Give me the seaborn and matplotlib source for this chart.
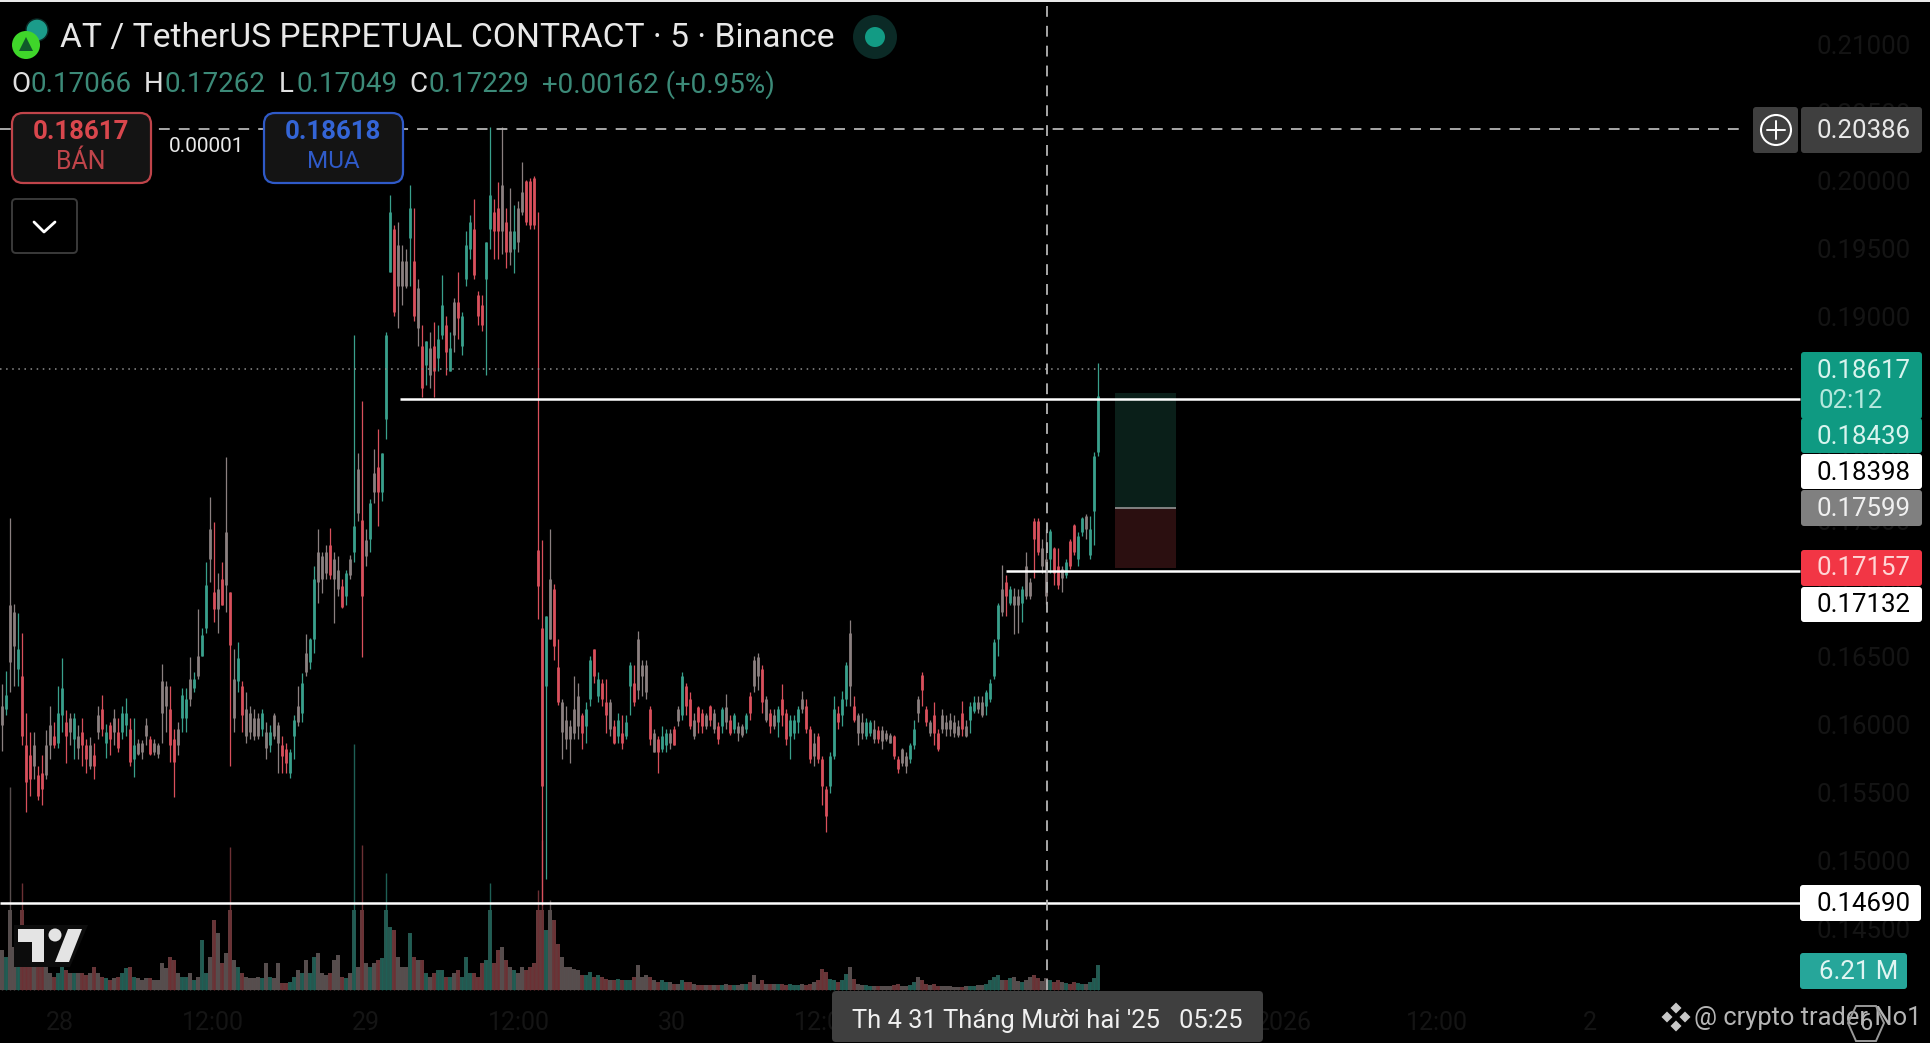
import numpy as np
import pandas as pd
import matplotlib
matplotlib.use("Agg")
import matplotlib.pyplot as plt
import seaborn as sns
from matplotlib.patches import Circle, FancyBboxPatch, Polygon, Rectangle
from matplotlib.transforms import Affine2D

# candles, prices in 1/10000 USDT, one candle = 4 px wide
highs = [
    1630,1640,1752,1689,1682,1668,1609,1595,1595,1570, 1578,1596,1614,1602,1629,1649,1611,1609,1609,1600,
    1605,1590,1591,1587,1614,1622,1601,1602,1612,1605, 1614,1620,1605,1605,1590,1589,1605,1592,1590,1587,
    1645,1632,1629,1597,1602,1627,1627,1650,1639,1685, 1671,1720,1768,1749,1712,1720,1797,1698,1656,1661,
    1632,1624,1614,1612,1609,1612,1602,1600,1609,1602, 1592,1587,1582,1607,1629,1638,1667,1664,1717,1744,
    1727,1732,1745,1727,1724,1707,1714,1725,1887,1800, 1838,1744,1766,1803,1818,1800,1889,1990,1968,1970,
    1953,1950,1997,1980,1928,1894,1882,1889,1896,1894, 1931,1901,1889,1914,1933,1904,1963,1975,1987,1919,
    1916,1955,2040,1987,1999,2040,1980,1995,1982,1985, 2014,2001,2002,2004,1977,1736,1680,1744,1704,1663,
    1619,1614,1604,1636,1631,1609,1617,1651,1656,1639, 1634,1634,1619,1604,1609,1607,1607,1646,1644,1669,
    1648,1648,1614,1597,1592,1599,1597,1597,1599,1614, 1639,1631,1624,1609,1614,1612,1609,1615,1612,1602,
    1613,1623,1607,1609,1602,1601,1609,1624,1651,1653, 1644,1621,1612,1612,1614,1630,1612,1607,1607,1614,
    1625,1619,1599,1594,1594,1577,1555,1580,1621,1614, 1625,1646,1677,1621,1609,1609,1605,1604,1604,1599,
    1599,1596,1594,1593,1577,1583,1580,1587,1604,1621, 1639,1614,1604,1617,1597,1612,1607,1609,1607,1604,
    1618,1604,1617,1621,1621,1621,1626,1634,1663,1690, 1718,1710,1702,1701,1700,1702,1727,1708,1752,1752,
    1737,1744,1744,1731,1730,1717,1722,1737,1748,1742, 1753,1755,1754,1801,1866,
]
body_tops = [
    1614,1622,1688,1683,1656,1636,1585,1578,1585,1563, 1565,1585,1600,1592,1609,1627,1602,1605,1605,1592,
    1595,1585,1585,1578,1607,1612,1595,1600,1605,1595, 1609,1609,1597,1585,1587,1587,1600,1590,1587,1585,
    1632,1629,1612,1590,1597,1622,1619,1634,1634,1651, 1666,1703,1744,1698,1700,1707,1742,1698,1634,1649,
    1629,1612,1609,1605,1605,1609,1595,1595,1607,1600, 1585,1582,1580,1604,1614,1631,1653,1663,1707,1727,
    1724,1727,1732,1722,1714,1702,1712,1722,1746,1788, 1751,1736,1763,1785,1790,1800,1887,1977,1965,1953,
    1941,1941,1980,1941,1921,1879,1882,1877,1879,1884, 1909,1894,1877,1911,1911,1901,1953,1970,1965,1916,
    1909,1955,1990,1977,1980,1997,1970,1963,1963,1980, 1992,2000,2000,2002,1729,1671,1680,1707,1700,1643,
    1617,1604,1599,1612,1621,1607,1612,1648,1656,1634, 1631,1617,1617,1599,1604,1594,1602,1644,1631,1663,
    1644,1644,1612,1594,1590,1592,1594,1594,1597,1612, 1636,1629,1619,1604,1613,1609,1607,1614,1609,1599,
    1612,1613,1604,1607,1599,1599,1607,1621,1648,1650, 1641,1619,1609,1607,1612,1619,1609,1604,1604,1612,
    1619,1614,1597,1587,1592,1575,1553,1577,1612,1609, 1619,1644,1668,1614,1607,1602,1602,1602,1597,1596,
    1596,1594,1593,1592,1575,1582,1577,1585,1597,1619, 1637,1612,1602,1607,1594,1607,1602,1604,1602,1599,
    1609,1599,1614,1617,1617,1617,1624,1631,1661,1688, 1700,1705,1700,1695,1695,1700,1717,1705,1750,1750,
    1730,1722,1743,1730,1717,1715,1720,1735,1747,1739, 1752,1754,1744,1798,1842,
]
body_bottoms = [
    1600,1612,1646,1658,1641,1592,1558,1560,1570,1548, 1553,1563,1585,1585,1587,1607,1592,1595,1590,1583,
    1585,1575,1570,1570,1595,1597,1587,1590,1595,1583, 1595,1600,1573,1575,1579,1580,1592,1579,1580,1579,
    1609,1614,1585,1573,1585,1605,1605,1619,1627,1636, 1651,1671,1722,1685,1685,1688,1703,1659,1605,1632,
    1607,1592,1595,1592,1592,1597,1583,1585,1592,1587, 1577,1572,1565,1592,1602,1609,1639,1646,1663,1705,
    1707,1712,1710,1707,1700,1687,1695,1710,1727,1756, 1695,1724,1737,1771,1771,1771,1825,1933,1904,1923,
    1923,1923,1958,1901,1892,1848,1865,1857,1860,1870, 1887,1874,1860,1887,1899,1879,1928,1950,1931,1901,
    1894,1928,1965,1963,1963,1963,1948,1948,1950,1955, 1977,1970,1968,1968,1702,1555,1629,1663,1658,1617,
    1595,1590,1590,1594,1599,1594,1599,1619,1636,1621, 1619,1607,1597,1587,1592,1587,1592,1629,1617,1626,
    1636,1624,1590,1580,1580,1582,1585,1587,1585,1603, 1607,1614,1599,1592,1602,1599,1599,1604,1597,1590,
    1599,1602,1594,1597,1594,1593,1597,1609,1629,1636, 1617,1604,1599,1599,1602,1607,1590,1592,1594,1602,
    1612,1597,1575,1577,1575,1555,1533,1555,1577,1602, 1607,1619,1629,1604,1594,1594,1592,1594,1590,1590,
    1588,1590,1587,1577,1568,1572,1570,1575,1585,1609, 1626,1602,1594,1594,1582,1597,1597,1597,1594,1593,
    1597,1592,1604,1610,1612,1607,1614,1619,1636,1663, 1683,1695,1690,1688,1688,1690,1695,1695,1737,1727,
    1717,1695,1722,1712,1703,1708,1710,1717,1727,1722, 1742,1744,1725,1757,1801,
]
lows = [
    1581,1607,1624,1629,1629,1585,1536,1548,1560,1545, 1541,1560,1575,1583,1583,1595,1572,1585,1575,1575,
    1570,1565,1568,1560,1590,1592,1576,1578,1585,1580, 1590,1592,1570,1562,1578,1575,1585,1578,1578,1576,
    1587,1595,1573,1547,1578,1595,1595,1614,1624,1634, 1651,1668,1705,1676,1668,1688,1683,1570,1595,1624,
    1595,1587,1590,1589,1590,1592,1575,1580,1590,1565, 1565,1565,1561,1575,1599,1602,1636,1641,1653,1690,
    1697,1707,1707,1675,1695,1686,1688,1707,1720,1750, 1650,1717,1727,1763,1746,1765,1810,1933,1901,1892,
    1909,1921,1923,1897,1879,1841,1850,1848,1841,1860, 1884,1857,1860,1874,1884,1872,1923,1943,1928,1894,
    1890,1857,1950,1943,1943,1946,1936,1938,1932,1948, 1975,1968,1965,1965,1678,1468,1487,1663,1648,1615,
    1575,1582,1572,1590,1590,1582,1587,1614,1631,1617, 1614,1594,1592,1586,1587,1582,1590,1607,1614,1619,
    1621,1619,1585,1580,1565,1580,1580,1582,1585,1599, 1604,1607,1597,1590,1594,1594,1597,1599,1594,1586,
    1594,1597,1593,1594,1588,1591,1594,1604,1624,1626, 1609,1602,1594,1597,1591,1599,1585,1575,1590,1594,
    1609,1594,1572,1570,1572,1541,1521,1550,1575,1597, 1599,1614,1614,1602,1585,1590,1590,1592,1587,1587,
    1582,1588,1587,1575,1565,1570,1565,1572,1582,1602, 1614,1599,1592,1585,1581,1594,1592,1592,1591,1591,
    1592,1591,1594,1609,1609,1606,1607,1617,1634,1651, 1680,1680,1688,1667,1668,1676,1693,1693,1708,1725,
    1712,1689,1712,1703,1700,1698,1708,1715,1725,1717, 1739,1737,1722,1732,1798,
]
# g = up, r = down, n = looks grey in the screenshot
sides = list(
    "ngnngrrrnr" "rnnrggrngn" "rrnrnrgrnr" "ggrgnnnrnn" "nnrrnggngn" "ggnrnrnrng" "rnnnngngnn"
    "rrggngnggn" "nnrnnrgngn" "rngnrgggrn" "nngrnrgnrg" "grgnrgggrr" "rggrrnrngn" "nrrrrrgnrr"
    "nnnnnrggrg" "rrnrgrggrn" "nnrnrggnrn" "grrnrrnrnr" "gnrgnngrnn" "rnrngrrggg" "nrrnrrrggr"
    "ggnrnnggnr" "nnnrrnnggn" "rrnrrnnnnn" "rnggnngggg" "nrgnngnnrr" "nngrrngrrg" "gnggg"
)
# volume in millions
volumes = [
    10,8.2,50.8,10.8,12.5,26.8,15.8,10.8,6.8,5.8, 5.8,5.8,4.2,3.2,4.2,5.8,5,4.2,4.2,4.2,
    4.2,3.8,4.2,5.8,4.2,3.2,3,2.5,3,3.2, 4.2,5.5,5.8,3.2,3,2.5,3,3,2.5,2.5,
    6.8,5.5,8.2,7.5,4.2,3.2,3.2,4.2,2.5,3.2, 12.5,4.2,8.2,17.5,14.2,6.8,9.2,35.8,7.5,5.8,
    4.2,3.2,3,3,3.2,3,6.8,3.2,3,6.8, 1.8,1.8,2,3.2,5,4.2,7.5,4.2,8.2,9.2,
    4.2,3.8,4.2,7.5,8.8,3.2,3,4.2,61.5,5.8, 36.2,6.8,5.8,6.8,7.5,8,29.2,15.8,15,8.2,
    5.8,5.8,14.2,8.2,7.5,7.5,4.2,3.2,4.2,5, 5,3.2,3.2,4.2,5,3.2,8.2,4.2,4.2,3.2,
    6.8,7.5,26.8,6.8,10,10.8,7.5,5.8,5,4.2, 5.8,5,5.8,6.8,25,37.5,15,22.5,17.5,11.5,
    8.2,5.8,5.8,5.2,5,3.8,3.8,4.5,3.2,3.8, 3.2,2.8,2.5,2.5,2.8,2.5,2.5,2.5,3.2,6.2,
    3.2,3.8,3.2,2.5,2,2.5,2,2,1.5,1.5, 2.5,2,2,1.5,1.2,1.2,1.2,1.2,1.2,1.2,
    1.2,1.5,1.2,1.2,1.2,1.5,1.5,2,3.8,1.5, 2.5,1.5,1.5,1.5,1.5,1.5,1.2,1.5,1.2,1.2,
    1.5,1.2,1.5,2,2.5,5.2,4.5,2.8,2.5,2, 2.5,4,5.8,2.8,1.5,1.2,1.2,1,1,1,
    1,1,1,1.2,1.5,1,1,1.2,2,3.2, 2.5,1.5,1.2,1.5,1,1,1,1,.8,.8,
    .8,1,1,1,1.2,1.2,1.5,2.5,3.2,3.8, 2.5,2.5,3,3.2,2.2,2,2.5,3.2,3.8,3,
    2.2,3,2.5,2,2.5,2,1.8,1.5,2,1.8, 1.5,1.5,2,3,6.21,
]

price_ticks = [0.145, 0.150, 0.155, 0.160, 0.165, 0.170, 0.175, 0.180, 0.185, 0.190, 0.195, 0.200, 0.205, 0.210]
# labels hidden by the date flag and the watermark are left out
time_ticks = [15.0, 53.25, 91.5, 129.75, 168.0, 206.25, 321.0, 359.25, 397.5]
time_labels = ["28", "12:00", "29", "12:00", "30", "12:00", "2026", "12:00", "2"]

cursor_price = 0.20386
last_price = 0.18617
level_prices = [0.18398, 0.17132, 0.14690]
level_starts = [100.0, 251.5, 0.0]
cursor_bar = 261.7
# long position tool
pos_left, pos_right = 278.75, 294.0
pos_target, pos_entry, pos_stop = 0.18439, 0.17599, 0.17157

sns.set_theme(style="dark", rc={"axes.facecolor": "black", "figure.facecolor": "black"})
plt.rcParams["font.family"] = ["Roboto", "DejaVu Sans"]

fig = plt.figure(figsize=(19.31, 10.43), dpi=100)
ax = fig.add_axes([0, 0, 1, 1])
vol_ax = ax.twinx()
ax.set_zorder(2)
vol_ax.set_zorder(1)
ax.patch.set_visible(False)

# volume pane, spikes above the cap are only thin lines like in the screenshot
vol_palette = {"g": "#1e5f55", "r": "#6c3034", "n": "#574d4d"}
bars = np.arange(len(volumes)) + 0.5
df = pd.DataFrame({"bar": bars, "volume": np.minimum(volumes, 20), "side": sides})
sns.barplot(data=df, x="bar", y="volume", hue="side", native_scale=True, dodge=False,
            palette=vol_palette, errorbar=None, width=0.9, legend=False, ax=vol_ax, linewidth=0)
vol_ax.vlines(bars, 0, volumes, colors=[vol_palette[s] for s in sides], linewidth=1.0, capstyle="butt")

# candles
candle_colors = {"g": "#39a08c", "r": "#d9505c", "n": "#8b8080"}
seg_colors = [candle_colors[s] for s in sides]
hi = np.array(highs) / 10000
lo = np.array(lows) / 10000
top = np.array(body_tops) / 10000
bot = np.array(body_bottoms) / 10000
ax.vlines(bars, lo, hi, colors=seg_colors, linewidth=0.9, capstyle="butt", zorder=3)
ax.vlines(bars, bot, top, colors=seg_colors, linewidth=2.0, capstyle="butt", zorder=3)

# position tool
ax.add_patch(Rectangle((pos_left, pos_entry), pos_right - pos_left, pos_target - pos_entry,
                       facecolor="#0a1f19", edgecolor="none", zorder=2))
ax.add_patch(Rectangle((pos_left, pos_stop), pos_right - pos_left, pos_entry - pos_stop,
                       facecolor="#2b0f10", edgecolor="none", zorder=2))
ax.hlines(pos_entry, pos_left, pos_right, colors="#8a8a8a", linewidth=1.3, zorder=3)

# levels and crosshair
ax.hlines(level_prices, level_starts, 450.0, colors="white", linewidth=1.8, zorder=4)
ax.hlines(last_price, 0, 449, colors="#8f8f8f", linewidth=1.1, linestyles=(0, (1, 3)), zorder=4)
ax.hlines(cursor_price, 0, 435, colors="#b5b5b5", linewidth=1.3, linestyles=(0, (6, 5)), zorder=4)
ax.vlines(cursor_bar, 0.1405, 0.2134, colors="#b5b5b5", linewidth=1.3, linestyles=(0, (6, 5)), zorder=4)

# axes limits: price 0.01 = 136 px, volume 1 M = 4 px
ax.set_xlim(0, 482.75)
ax.set_ylim(0.21 - 998 / 13600, 0.21 + 45 / 13600)
vol_ax.set_xlim(0, 482.75)
vol_ax.set_ylim(-13.25, 247.5)
vol_ax.set_xlabel("")
vol_ax.set_ylabel("")
vol_ax.set_yticks([])
vol_ax.grid(False)
ax.grid(False)
for a in (ax, vol_ax):
    for sp in a.spines.values():
        sp.set_visible(False)

ax.set_yticks(price_ticks, [f"{p:.5f}" for p in price_ticks])
ax.set_xticks(time_ticks, time_labels)
ax.yaxis.tick_right()
ax.tick_params(axis="y", length=0, pad=-14.5, labelsize=18.6, labelcolor="#141414")
ax.tick_params(axis="x", length=0, pad=-23, labelsize=18, labelcolor="#141414")
for lab in ax.get_yticklabels():
    lab.set_ha("right")

# screen furniture below, in picture pixels
px = Affine2D().scale(1, -1).translate(0, 1043)


def box(x0, y0, x1, y1, face, edge="none", lw=0, r=3, z=10):
    fig.add_artist(FancyBboxPatch((x0, y0), x1 - x0, y1 - y0, boxstyle=f"round,pad=0,rounding_size={r}",
                                  facecolor=face, edgecolor=edge, linewidth=lw, transform=px, zorder=z))


def label(x, y, s, color="#e8e8e8", size=18.6, ha="left", weight="normal", z=11):
    # +2: matplotlib centres on the box with descent, the screenshot sits a bit lower
    fig.text(x, y + 2, s, color=color, fontsize=size, ha=ha, va="center", fontweight=weight, transform=px, zorder=z)


fig.add_artist(Rectangle((0, 0), 1931, 2, facecolor="#e8e8e8", edgecolor="none", transform=px, zorder=12))

# header
fig.add_artist(Circle((37, 30), 11, facecolor="#1b9c8a", edgecolor="#0b2a26", transform=px, zorder=10))
fig.add_artist(Circle((26, 45), 14, facecolor="#3fd62a", edgecolor="none", transform=px, zorder=10))
fig.add_artist(Polygon([(26, 37), (33, 51), (19, 51)], closed=True, facecolor="#0f5a2a", edgecolor="none",
                       transform=px, zorder=11))
label(60, 36, "AT / TetherUS PERPETUAL CONTRACT · 5 · Binance", size=24.2)
fig.add_artist(Circle((875, 37), 22, facecolor="#0b2a26", edgecolor="none", transform=px, zorder=10))
fig.add_artist(Circle((875, 37), 10, facecolor="#129b84", edgecolor="none", transform=px, zorder=11))

ohlc_color = "#3c8a78"
for x_letter, letter, x_value, value in [(11, "O", 31, "0.17066"), (144, "H", 165, "0.17262"),
                                         (279, "L", 296, "0.17049"), (409, "C", 429, "0.17229")]:
    label(x_letter, 83, letter, color="#e0e0e0", size=20)
    label(x_value, 83, value, color=ohlc_color, size=20)
label(542, 83, "+0.00162 (+0.95%)", color=ohlc_color, size=20)

# sell / buy buttons
box(12, 113, 151, 183, "#141414", edge="#c0444a", lw=1.6, r=11)
label(81, 130, "0.18617", color="#d9474d", ha="center", weight="bold")
label(81, 160, "BÁN", color="#c0444a", ha="center", size=18)
label(207, 145, "0.00001", ha="center", size=15)
box(264, 113, 403, 183, "#141414", edge="#2f5ac8", lw=1.6, r=11)
label(333, 130, "0.18618", color="#3465d6", ha="center", weight="bold")
label(333, 160, "MUA", color="#2f5ac8", ha="center", size=17.5)
box(12, 199, 77, 253, "black", edge="#3a3a3a", lw=1.4, r=4)
fig.add_artist(plt.Line2D([34, 44, 55], [222, 232, 222], color="white", linewidth=2.0, transform=px, zorder=11))

# price scale flags
box(1753, 107, 1798, 153, "#3f3f3f")
box(1801, 107, 1922, 153, "#3f3f3f")
fig.add_artist(Circle((1776, 130), 15, facecolor="none", edgecolor="white", linewidth=1.5, transform=px, zorder=11))
fig.add_artist(plt.Line2D([1767, 1785], [130, 130], color="white", linewidth=1.4, transform=px, zorder=11))
fig.add_artist(plt.Line2D([1776, 1776], [121, 139], color="white", linewidth=1.4, transform=px, zorder=11))
label(1911, 129, "0.20386", ha="right")

box(1801, 352, 1922, 419, "#0f9a82")
label(1911, 369, "0.18617", color="#d8f4ee", ha="right")
label(1819, 399, "02:12", color="#b5e8dd")
box(1801, 418, 1922, 453, "#0f9a82")
label(1911, 435, "0.18439", color="#d8f4ee", ha="right")
box(1801, 454, 1922, 489, "white")
label(1911, 471, "0.18398", color="black", ha="right")
box(1801, 490, 1922, 526, "#808080")
label(1911, 507, "0.17599", color="#f0f0f0", ha="right")
box(1801, 550, 1922, 586, "#f23645")
label(1911, 566, "0.17157", color="#ffd5d5", ha="right")
box(1801, 587, 1922, 622, "white")
label(1911, 603, "0.17132", color="black", ha="right")
box(1800, 885, 1921, 921, "white")
label(1911, 902, "0.14690", color="black", ha="right")
box(1800, 953, 1907, 989, "#26a69a")
label(1819, 970, "6.21 M", color="#e0f5f2")

# tradingview logo
fig.add_artist(Polygon([(14, 925), (88, 925), (70, 967), (14, 967)], closed=True, facecolor="#0c0c0c",
                       edgecolor="none", transform=px, zorder=10))
fig.add_artist(Polygon([(18, 929), (44, 929), (44, 962), (32, 962), (32, 942), (18, 942)], closed=True,
                       facecolor="#e4e4e4", edgecolor="none", transform=px, zorder=11))
fig.add_artist(Circle((55, 935), 6.5, facecolor="#e4e4e4", edgecolor="none", transform=px, zorder=11))
fig.add_artist(Polygon([(68, 929), (82, 929), (69, 962), (55, 962)], closed=True, facecolor="#e4e4e4",
                       edgecolor="none", transform=px, zorder=11))

# date flag under the crosshair
box(832, 991, 1263, 1042, "#3f3f3f", r=4)
label(1047, 1019, "Th 4 31 Tháng Mười hai '25   05:25", ha="center", size=18.4, color="#f0f0f0")

# watermark
for dx, dy in [(0, -9), (-9, 0), (9, 0), (0, 9)]:
    cx, cy = 1676 + dx, 1017 + dy
    fig.add_artist(Polygon([(cx, cy - 5.5), (cx + 5.5, cy), (cx, cy + 5.5), (cx - 5.5, cy)], closed=True,
                           facecolor="#c8c8c8", edgecolor="none", transform=px, zorder=11))
label(1694, 1016, "@ crypto trader No1", color="#b5b5b5", size=18.4)
fig.add_artist(Polygon([(1856, 1006), (1876, 1006), (1884, 1023), (1876, 1041), (1856, 1041), (1848, 1023)],
                       closed=True, facecolor="none", edgecolor="#9a9a9a", linewidth=1.4, transform=px, zorder=12))
label(1866, 1022, "6", color="#b5b5b5", size=17, ha="center", z=12)

fig.savefig("out.png", dpi=100, facecolor="black")
